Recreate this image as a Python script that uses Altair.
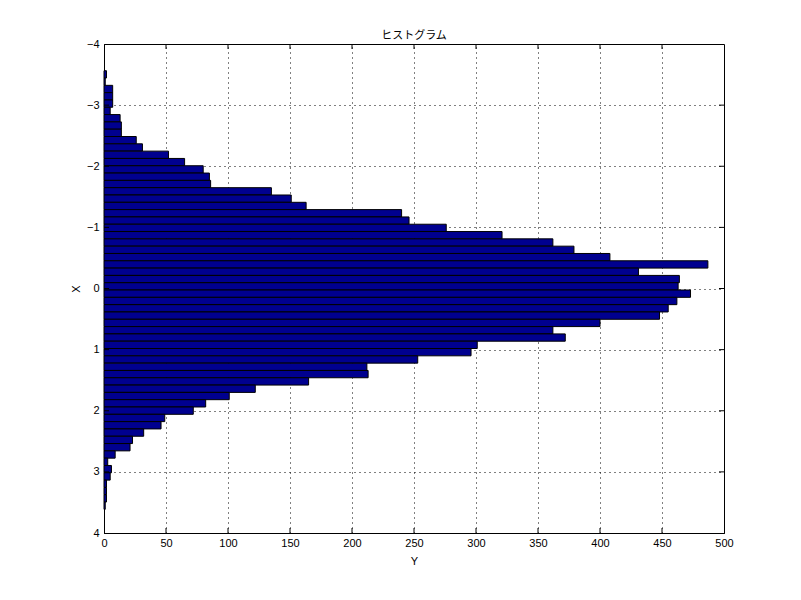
import altair as alt
import pandas as pd

counts = [2, 1, 7, 7, 7, 5, 13, 14, 14, 26, 31, 52, 65, 80, 85, 86, 135, 151, 163, 240,
          246, 276, 321, 362, 379, 408, 487, 431, 464, 463, 473, 462, 455, 448, 400, 362,
          372, 301, 296, 253, 212, 213, 165, 122, 101, 82, 72, 49, 46, 32, 23, 21, 9, 3,
          6, 5, 2, 2, 2, 1]
bin_start = -3.563
bin_width = 0.1196
x_ticks = [0, 50, 100, 150, 200, 250, 300, 350, 400, 450, 500]
y_ticks = [-4, -3, -2, -1, 0, 1, 2, 3, 4]
title_text = "ヒストグラム"
x_title = "Y"
y_title = "X"

df = pd.DataFrame({
    "lo": [bin_start + i * bin_width for i in range(len(counts))],
    "count": counts,
})
df["hi"] = df["lo"] + bin_width
df["zero"] = 0

W, H = 620, 489
FONT = "Liberation Sans"

xscale = alt.Scale(domain=[0, 500], nice=False, zero=False)
yscale = alt.Scale(domain=[-4, 4], reverse=True, nice=False, zero=False)

xaxis = alt.Axis(values=x_ticks, title=x_title, grid=True, tickSize=0, labelFlush=False,
                 labelPadding=4, titlePadding=7, format="d")
yaxis = alt.Axis(values=y_ticks, title=y_title, grid=True, tickSize=0, labelFlush=False,
                 labelPadding=5, titlePadding=5, format="d")

bars = alt.Chart(df).mark_rect(color="#00008F", stroke="black", strokeWidth=1).encode(
    x=alt.X("zero:Q", scale=xscale, axis=xaxis),
    x2="count:Q",
    y=alt.Y("lo:Q", scale=yscale, axis=yaxis),
    y2="hi:Q",
)

xt = pd.DataFrame({"v": x_ticks[1:-1]})
yt = pd.DataFrame({"v": y_ticks[1:-1]})

tick_bottom = alt.Chart(xt).mark_rule(color="black", strokeWidth=1).encode(
    x=alt.X("v:Q", scale=xscale, axis=xaxis), y=alt.value(H), y2=alt.value(H - 5))
tick_top = alt.Chart(xt).mark_rule(color="black", strokeWidth=1).encode(
    x=alt.X("v:Q", scale=xscale, axis=xaxis), y=alt.value(0), y2=alt.value(5))
tick_left = alt.Chart(yt).mark_rule(color="black", strokeWidth=1).encode(
    y=alt.Y("v:Q", scale=yscale, axis=yaxis), x=alt.value(0), x2=alt.value(5))
tick_right = alt.Chart(yt).mark_rule(color="black", strokeWidth=1).encode(
    y=alt.Y("v:Q", scale=yscale, axis=yaxis), x=alt.value(W), x2=alt.value(W - 5))

chart = alt.layer(bars, tick_bottom, tick_top, tick_left, tick_right).properties(
    width=W, height=H,
    title=alt.TitleParams(title_text, font="Noto Sans CJK JP", fontSize=11,
                          fontWeight="normal", color="black", offset=-3),
    autosize=alt.AutoSizeParams(type="none"),
    padding={"left": 96, "top": 36, "right": 60, "bottom": 50},
    background="white",
).configure_view(
    stroke="black", strokeWidth=1
).configure_axis(
    domainColor="black", domainWidth=1,
    gridColor="black", gridDash=[1, 4], gridOpacity=1, gridWidth=1,
    labelFont=FONT, labelFontSize=11, labelColor="black",
    titleFont=FONT, titleFontSize=11, titleColor="black", titleFontWeight="normal",
)

chart.save("out.html", embed_options={"renderer": "svg", "actions": False})
